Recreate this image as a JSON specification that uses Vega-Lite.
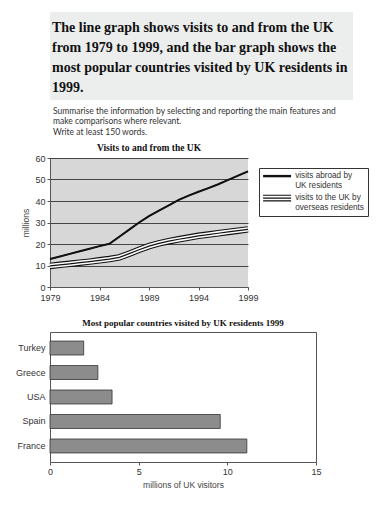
{
  "$schema": "https://vega.github.io/schema/vega-lite/v6.json",
  "background": "white",
  "padding": {"left": 14, "top": 12, "right": 5, "bottom": 5},
  "bounds": "flush",
  "spacing": 0,
  "config": {
    "view": {"stroke": null},
    "axis": {"labelFont": "Liberation Sans", "titleFont": "Liberation Sans", "labelColor": "#333", "titleColor": "#444", "titleFontWeight": "normal", "labelFlush": false},
    "title": {"font": "Liberation Serif", "fontWeight": "bold", "color": "#111"}
  },
  "vconcat": [
    {
      "width": 303,
      "height": 88,
      "view": {"fill": "#eceeee", "stroke": null},
      "data": {"values": [
        {"line": 1, "text": "The line graph shows visits to and from the UK"},
        {"line": 2, "text": "from 1979 to 1999, and the bar graph shows the"},
        {"line": 3, "text": "most popular countries visited by UK residents in"},
        {"line": 4, "text": "1999."}
      ]},
      "mark": {"type": "text", "align": "left", "baseline": "middle", "font": "Liberation Serif", "fontWeight": "bold", "fontSize": 14, "color": "#111", "dx": 2},
      "encoding": {
        "x": {"datum": 0, "type": "quantitative", "scale": {"domain": [0, 1], "nice": false, "zero": false}, "axis": null},
        "y": {"field": "line", "type": "quantitative", "scale": {"domain": [0.2, 4.6], "reverse": true, "nice": false, "zero": false}, "axis": null},
        "text": {"field": "text"}
      }
    },
    {
      "width": 303,
      "height": 58,
      "data": {"values": [
        {"line": 1, "text": "Summarise the information by selecting and reporting the main features and"},
        {"line": 2, "text": "make comparisons where relevant."},
        {"line": 3, "text": "Write at least 150 words."}
      ]},
      "mark": {"type": "text", "align": "left", "baseline": "middle", "font": "Lato", "fontSize": 8.5, "color": "#333", "dx": 3},
      "encoding": {
        "x": {"datum": 0, "type": "quantitative", "scale": {"domain": [0, 1], "nice": false, "zero": false}, "axis": null},
        "y": {"field": "line", "type": "quantitative", "scale": {"domain": [0, 5.52], "reverse": true, "nice": false, "zero": false}, "axis": null},
        "text": {"field": "text"}
      }
    },
    {
      "width": 198,
      "height": 129,
      "title": {"text": "Visits to and from the UK", "fontSize": 9.5, "offset": 2},
      "view": {"fill": "#d7d7d7", "stroke": null},
      "data": {"values": [
        {"year": 1979, "series": "abroad", "value": 13},
        {"year": 1980, "series": "abroad", "value": 14.2},
        {"year": 1981, "series": "abroad", "value": 15.4},
        {"year": 1982, "series": "abroad", "value": 16.6},
        {"year": 1983, "series": "abroad", "value": 17.8},
        {"year": 1984, "series": "abroad", "value": 19},
        {"year": 1985, "series": "abroad", "value": 20.1},
        {"year": 1986, "series": "abroad", "value": 23.4},
        {"year": 1987, "series": "abroad", "value": 26.7},
        {"year": 1988, "series": "abroad", "value": 30},
        {"year": 1989, "series": "abroad", "value": 33},
        {"year": 1990, "series": "abroad", "value": 35.5},
        {"year": 1991, "series": "abroad", "value": 38},
        {"year": 1992, "series": "abroad", "value": 40.5},
        {"year": 1993, "series": "abroad", "value": 42.5},
        {"year": 1994, "series": "abroad", "value": 44.3},
        {"year": 1995, "series": "abroad", "value": 46},
        {"year": 1996, "series": "abroad", "value": 47.8},
        {"year": 1997, "series": "abroad", "value": 49.8},
        {"year": 1998, "series": "abroad", "value": 51.8},
        {"year": 1999, "series": "abroad", "value": 53.8},
        {"year": 1979, "series": "to", "value": 9.8},
        {"year": 1980, "series": "to", "value": 10.3},
        {"year": 1981, "series": "to", "value": 10.8},
        {"year": 1982, "series": "to", "value": 11.3},
        {"year": 1983, "series": "to", "value": 11.8},
        {"year": 1984, "series": "to", "value": 12.4},
        {"year": 1985, "series": "to", "value": 13},
        {"year": 1986, "series": "to", "value": 13.8},
        {"year": 1987, "series": "to", "value": 15.5},
        {"year": 1988, "series": "to", "value": 17.3},
        {"year": 1989, "series": "to", "value": 19},
        {"year": 1990, "series": "to", "value": 20.3},
        {"year": 1991, "series": "to", "value": 21.3},
        {"year": 1992, "series": "to", "value": 22.2},
        {"year": 1993, "series": "to", "value": 23},
        {"year": 1994, "series": "to", "value": 23.8},
        {"year": 1995, "series": "to", "value": 24.4},
        {"year": 1996, "series": "to", "value": 25},
        {"year": 1997, "series": "to", "value": 25.6},
        {"year": 1998, "series": "to", "value": 26.2},
        {"year": 1999, "series": "to", "value": 26.8}
      ]},
      "encoding": {
        "x": {"field": "year", "type": "quantitative", "scale": {"domain": [1979, 1999], "nice": false, "zero": false},
              "axis": {"values": [1979, 1984, 1989, 1994, 1999], "format": "d", "title": null, "grid": false, "domainColor": "#555", "tickColor": "#555", "tickSize": 3, "labelPadding": 3, "labelFontSize": 9}},
        "y": {"field": "value", "type": "quantitative", "scale": {"domain": [0, 60], "nice": false},
              "axis": {"values": [0, 10, 20, 30, 40, 50, 60], "title": "millions", "titleFontSize": 8.5, "titlePadding": 4, "grid": true, "gridColor": "#444", "gridWidth": 1, "gridOpacity": 1, "domainColor": "#555", "tickColor": "#555", "tickSize": 3, "labelPadding": 2, "labelFontSize": 9}}
      },
      "layer": [
        {"transform": [{"filter": "datum.series == 'to'"}], "mark": {"type": "line", "color": "#111", "strokeWidth": 6.5}},
        {"transform": [{"filter": "datum.series == 'to'"}], "mark": {"type": "line", "color": "#fff", "strokeWidth": 4.3}},
        {
          "mark": {"type": "line", "strokeWidth": 1.2},
          "encoding": {
            "color": {"field": "series", "type": "nominal",
              "scale": {"domain": ["abroad", "to"], "range": ["#111", "#111"]},
              "legend": {
                "orient": "none", "legendX": 209, "legendY": 156, "title": null,
                "strokeColor": "#333", "fillColor": "white", "padding": 4,
                "symbolType": {"expr": "datum.value == 'to' ? 'M-1,-0.2H1M-1,0H1M-1,0.2H1' : 'stroke'"},
                "symbolSize": 784,
                "symbolOffset": 10,
                "symbolStrokeWidth": {"expr": "datum.value == 'to' ? 1.1 : 2.4"},
                "labelFont": "Liberation Sans", "labelFontSize": 8.2, "labelColor": "#333",
                "labelOffset": 14, "labelLimit": 200, "rowPadding": 3, "labelLineHeight": 10,
                "labelExpr": "datum.label == 'abroad' ? ['visits abroad by', 'UK residents'] : ['visits to the UK by', 'overseas residents']"
              }
            }
          }
        },
        {"transform": [{"filter": "datum.series == 'abroad'"}], "mark": {"type": "line", "color": "#111", "strokeWidth": 2}}
      ]
    },
    {
      "width": 10,
      "height": 45,
      "data": {"values": []},
      "mark": {"type": "text"},
      "encoding": {}
    },
    {
      "width": 266,
      "height": 130,
      "title": {"text": "Most popular countries visited by UK residents 1999", "fontSize": 9, "offset": 4},
      "view": {"stroke": "#555", "strokeWidth": 1},
      "data": {"values": [
        {"country": "Turkey", "visitors": 1.9},
        {"country": "Greece", "visitors": 2.7},
        {"country": "USA", "visitors": 3.5},
        {"country": "Spain", "visitors": 9.6},
        {"country": "France", "visitors": 11.1}
      ]},
      "mark": {"type": "bar", "fill": "#8c8c8c", "stroke": "#333", "strokeWidth": 0.8},
      "encoding": {
        "y": {"field": "country", "type": "nominal", "sort": ["Turkey", "Greece", "USA", "Spain", "France"],
              "scale": {"paddingInner": 0.43, "paddingOuter": 0.37},
              "axis": {"title": null, "ticks": false, "domain": false, "labelPadding": 5, "labelFontSize": 9}},
        "x": {"field": "visitors", "type": "quantitative", "scale": {"domain": [0, 15], "nice": false},
              "axis": {"values": [0, 5, 10, 15], "title": "millions of UK visitors", "titleFontSize": 8.5, "titlePadding": 4, "grid": false, "domain": false, "tickColor": "#555", "tickSize": 3, "labelPadding": 2, "labelFontSize": 9}}
      }
    }
  ]
}
